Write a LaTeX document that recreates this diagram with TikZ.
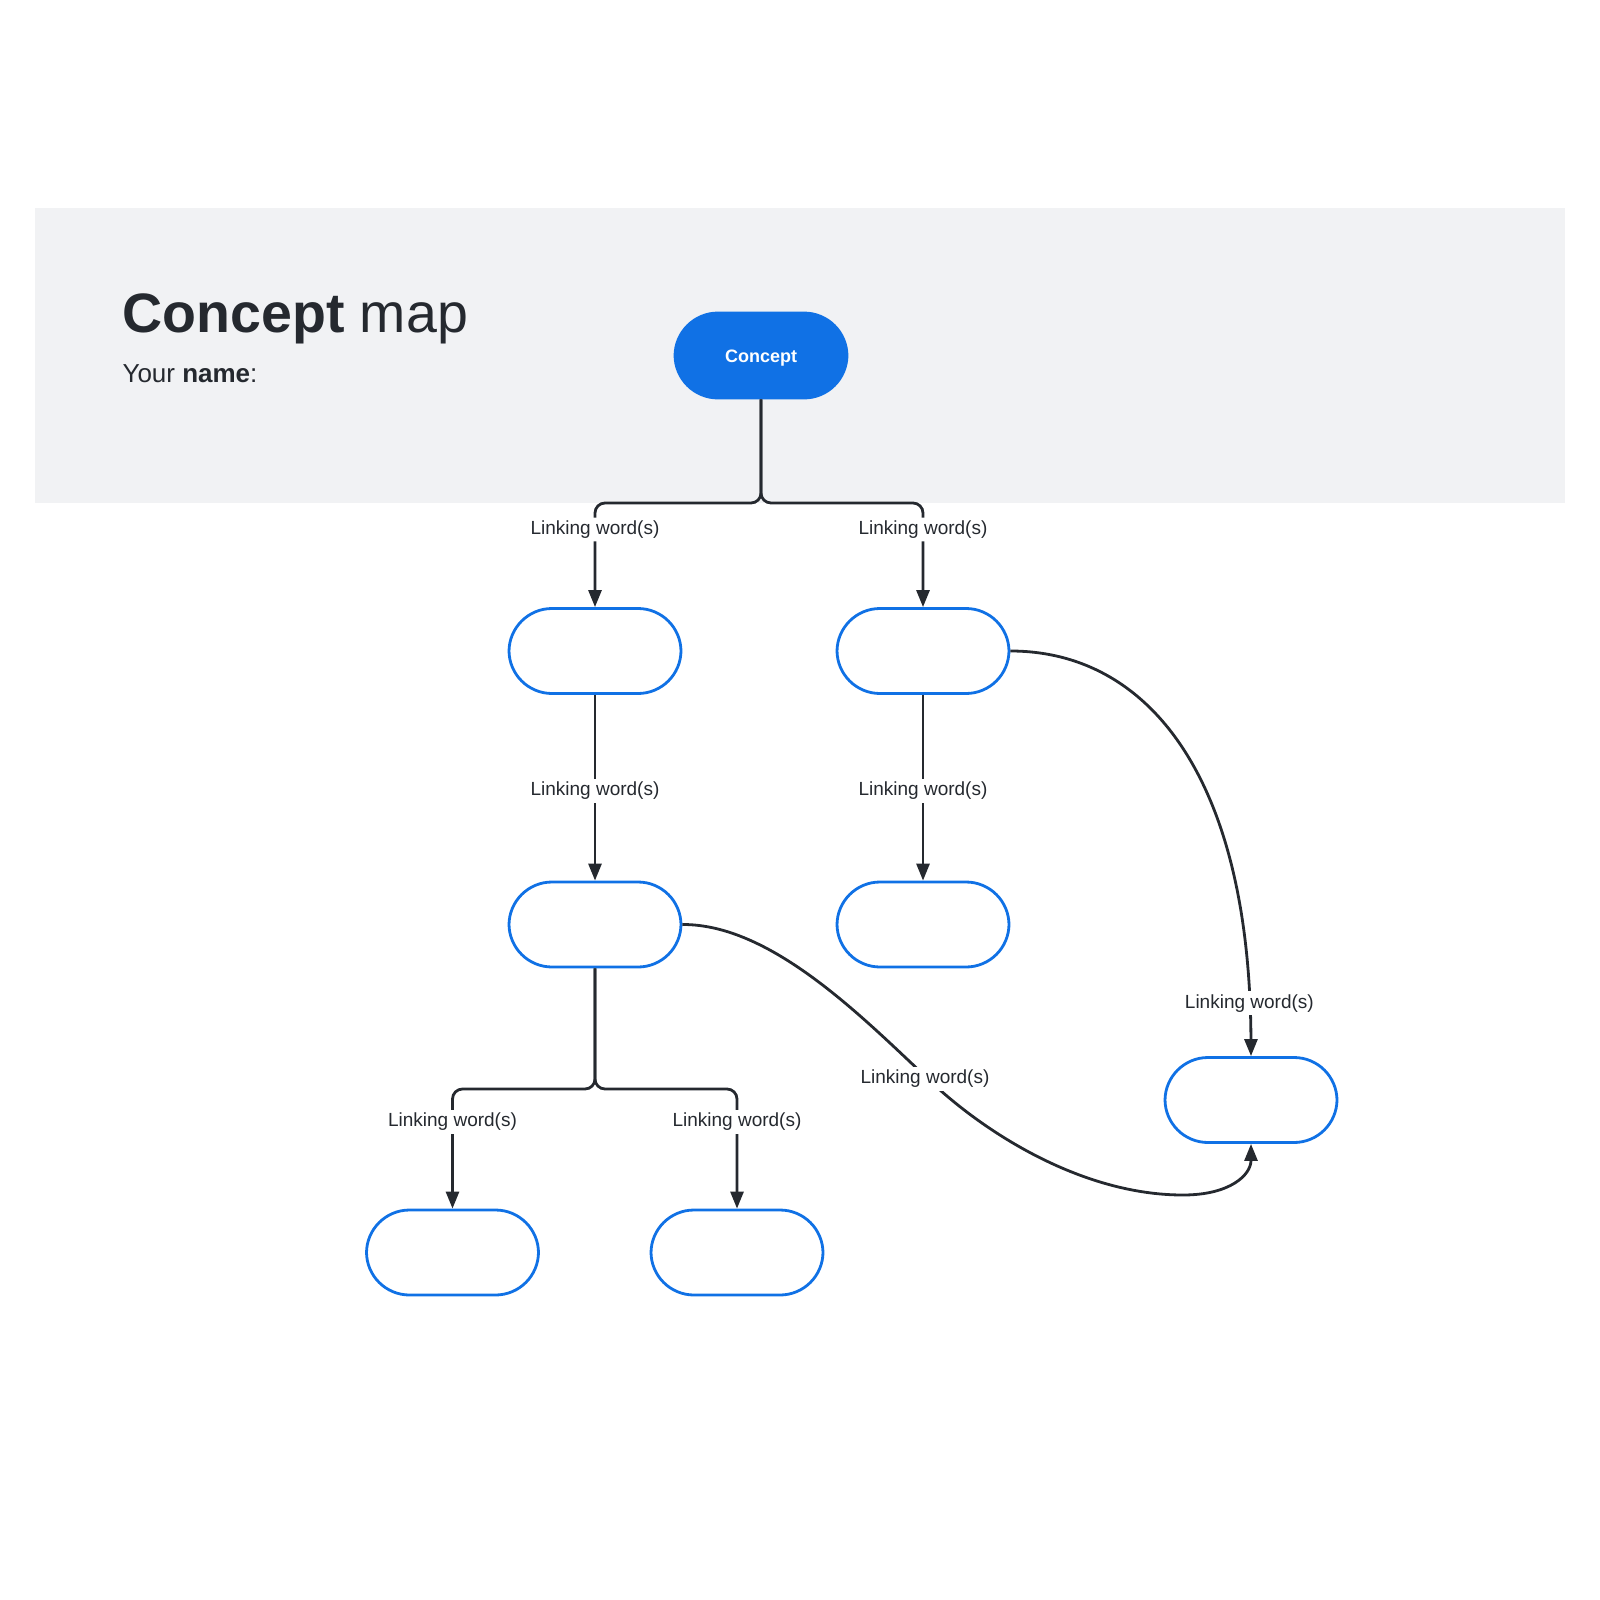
\documentclass[tikz,border=0pt]{standalone}
\usepackage{fontspec}
\setmainfont{Liberation Sans}
\usetikzlibrary{arrows.meta, calc}
\definecolor{inkdark}{HTML}{25292F}
\definecolor{cmblue}{HTML}{1071E5}
\definecolor{bandgray}{HTML}{F1F2F4}

\tikzset{
  concept/.style={draw=cmblue, line width=2.8pt, rounded corners=43pt, minimum width=172pt, minimum height=85pt, inner sep=0pt},
  topic/.style={concept, fill=cmblue, text=white, text height=17pt, text depth=3.8pt, font=\fontsize{18}{20}\selectfont\bfseries},
  link/.style={draw=inkdark, line width=2.8pt, -{Triangle[length=17pt,width=13pt]}},
  lbl/.style={fill=white, text=inkdark, inner sep=3pt, yshift=-3pt, font=\fontsize{19}{22}\selectfont}
}

\begin{document}
\begin{tikzpicture}[x=1pt, y=-1pt]
  \useasboundingbox (0,0) rectangle (1600,1600);
  \fill[bandgray] (35,208) rectangle (1565,503);
  \node[anchor=base west, text=inkdark, font=\fontsize{55.5}{62}\selectfont] (title) at (119,332) {\textbf{Concept} map};
  \node[anchor=base west, text=inkdark, font=\fontsize{26}{30}\selectfont] (who) at (119,382) {Your \textbf{name}:};

  \path (761,355.5) node[topic] (top) {Concept}
  (595,651) node[concept] (r1a) {} (923,651) node[concept] (r1b) {}
  (595,924.5) node[concept] (r2a) {} (923,924.5) node[concept] (r2b) {}
  (452.5,1252.5) node[concept] (r3a) {} (737,1252.5) node[concept] (r3b) {}
  (1251,1100) node[concept] (side) {};
  \coordinate (fk1) at (761,503);
  \coordinate (fk2) at (595,1089);

  \draw[link, rounded corners=10pt] (top.south) -- (fk1) -| node[lbl, pos=0.613] {Linking word(s)} (r1a.north);
  \draw[link, rounded corners=10pt] (top.south) -- (fk1) -| node[lbl, pos=0.613] {Linking word(s)} (r1b.north);
  \draw[link] (r1a.south) -- node[lbl] {Linking word(s)} (r2a.north);
  \draw[link] (r1b.south) -- node[lbl] {Linking word(s)} (r2b.north);
  \draw[link, rounded corners=10pt] (r2a.south) -- (fk2) -| node[lbl, pos=0.625] {Linking word(s)} (r3a.north);
  \draw[link, rounded corners=10pt] (r2a.south) -- (fk2) -| node[lbl, pos=0.625] {Linking word(s)} (r3b.north);
  \draw[link] (r1b.east) .. controls (1150,651) and (1250,780) .. node[lbl, pos=0.93] {Linking word(s)} (side.north);
  \draw[link] (r2a.east) .. controls (770,924) and (860,1015) .. (925,1076) node[lbl] {Linking word(s)}
    .. controls (980,1130) and (1080,1195) .. (1183,1195) .. controls (1230,1195) and (1251,1175) .. (side.south);
\end{tikzpicture}
\end{document}
